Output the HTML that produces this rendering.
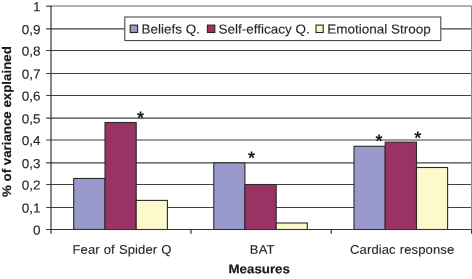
<!DOCTYPE html>
<html><head><meta charset="utf-8">
<style>
html,body{margin:0;padding:0;background:#fff;}
body{width:472px;height:279px;overflow:hidden;}
svg{display:block;}
text{font-family:"Liberation Sans",Arial,sans-serif;fill:#262626;stroke:#262626;stroke-width:0.12px;text-rendering:geometricPrecision;}
.ast text{stroke:none;fill:#1a1a1a;}
.b{fill:#181818;stroke:#181818;stroke-width:0.18px;}
</style></head><body>
<svg width="472" height="279" viewBox="0 0 472 279">
<rect width="472" height="279" fill="#fff"/>
<!-- top/right border -->
<path d="M51 6.1H471" stroke="#96969c" stroke-width="1.5" fill="none"/>
<path d="M471.6 5.4V229.5" stroke="#8e8e96" stroke-width="1.3" fill="none"/>
<!-- gridlines -->
<g stroke="#404040" stroke-width="1.2" fill="none">
<line x1="46.1" x2="471" y1="28.9" y2="28.9"/>
<line x1="46.1" x2="471" y1="50.5" y2="50.5"/>
<line x1="46.1" x2="471" y1="73.5" y2="73.5"/>
<line x1="46.1" x2="471" y1="95.5" y2="95.5"/>
<line x1="46.1" x2="471" y1="118.2" y2="118.2"/>
<line x1="46.1" x2="471" y1="140" y2="140"/>
<line x1="46.1" x2="471" y1="162.9" y2="162.9"/>
<line x1="46.1" x2="471" y1="184.5" y2="184.5"/>
<line x1="46.1" x2="471" y1="207.5" y2="207.5"/>
<line x1="46.1" x2="51" y1="6.2" y2="6.2"/>
</g>
<!-- bars -->
<g stroke="#2a2a2a" stroke-width="1.1">
<rect x="73.7" y="178.45" width="31.3" height="51" fill="#9999cc"/>
<rect x="105" y="122.5" width="31.2" height="107" fill="#993366"/>
<rect x="136.2" y="200.4" width="31.2" height="29.1" fill="#fdf9cc"/>
<rect x="213.8" y="162.9" width="31.1" height="66.6" fill="#9999cc"/>
<rect x="244.9" y="184.5" width="31.3" height="45" fill="#993366"/>
<rect x="276.2" y="223" width="31.1" height="6.5" fill="#fdf9cc"/>
<rect x="354" y="146.3" width="31.2" height="83.2" fill="#9999cc"/>
<rect x="385.2" y="142.1" width="31.3" height="87.4" fill="#993366"/>
<rect x="416.5" y="167.5" width="31.1" height="62" fill="#fdf9cc"/>
</g>
<!-- axes -->
<g stroke="#333" stroke-width="1.2" fill="none">
<line x1="51" x2="51" y1="5.7" y2="233.7"/>
<line x1="46.1" x2="471.4" y1="229.5" y2="229.5"/>
<line x1="191" x2="191" y1="229.5" y2="233.7"/>
<line x1="331.2" x2="331.2" y1="229.5" y2="233.7"/>
<line x1="471.6" x2="471.6" y1="229.5" y2="233.7"/>
</g>
<!-- y axis labels -->
<g font-size="13.5">
<text transform="translate(40.45 11.25) rotate(0.03) scale(1 0.96)" text-anchor="end">1</text>
<text transform="translate(40.45 33.95) rotate(0.03) scale(1 0.96)" text-anchor="end">0,9</text>
<text transform="translate(40.45 55.55) rotate(0.03) scale(1 0.96)" text-anchor="end">0,8</text>
<text transform="translate(40.45 78.55) rotate(0.03) scale(1 0.96)" text-anchor="end">0,7</text>
<text transform="translate(40.45 100.55) rotate(0.03) scale(1 0.96)" text-anchor="end">0,6</text>
<text transform="translate(40.45 123.25) rotate(0.03) scale(1 0.96)" text-anchor="end">0,5</text>
<text transform="translate(40.45 145.05) rotate(0.03) scale(1 0.96)" text-anchor="end">0,4</text>
<text transform="translate(40.45 167.95) rotate(0.03) scale(1 0.96)" text-anchor="end">0,3</text>
<text transform="translate(40.45 189.55) rotate(0.03) scale(1 0.96)" text-anchor="end">0,2</text>
<text transform="translate(40.45 212.55) rotate(0.03) scale(1 0.96)" text-anchor="end">0,1</text>
<text transform="translate(40.45 234.55) rotate(0.03) scale(1 0.96)" text-anchor="end">0</text>
</g>
<!-- y title -->
<text transform="translate(11.2,121.6) rotate(-90) scale(1,0.94)" class="b" font-size="13.3" font-weight="bold" text-anchor="middle">% of variance explained</text>
<!-- x labels -->
<g font-size="13.05" word-spacing="0.35" letter-spacing="0.1">
<text transform="translate(122.0 253.7) rotate(0.03) scale(1 0.96)" text-anchor="middle">Fear of Spider Q</text>
<text transform="translate(262.2 253.7) rotate(0.03) scale(1 0.96)" text-anchor="middle">BAT</text>
<text transform="translate(402.2 253.7) rotate(0.03) scale(1 0.96)" text-anchor="middle">Cardiac response</text>
</g>
<text transform="translate(259.2 273.3) rotate(0.03) scale(1 0.96)" text-anchor="middle" class="b" font-size="13.3" font-weight="bold">Measures</text>
<!-- legend -->
<rect x="124.8" y="17" width="316" height="23.55" fill="#fff" stroke="#484848" stroke-width="1.1"/>
<g stroke="#262626" stroke-width="1.1">
<rect x="130.2" y="25.1" width="7.4" height="7.4" fill="#9999cc"/>
<rect x="207.4" y="25.1" width="7.4" height="7.4" fill="#993366"/>
<rect x="316" y="25.1" width="7.2" height="7.4" fill="#fdf9cc"/>
</g>
<g font-size="13.5">
<text transform="translate(141.6 33.4) rotate(0.03) scale(1 0.96)">Beliefs Q.</text>
<text transform="translate(218.5 33.4) rotate(0.03) scale(1 0.96)">Self-efficacy Q.</text>
<text transform="translate(327.2 33.4) rotate(0.03) scale(1 0.96)">Emotional Stroop</text>
</g>
<!-- significance asterisks -->
<g class="ast" font-size="18" font-weight="bold" text-anchor="middle">
<text x="140.6" y="124.4">*</text>
<text x="251.4" y="163.9">*</text>
<text x="379" y="147.3">*</text>
<text x="417.8" y="144.4">*</text>
</g>
</svg>
</body></html>
